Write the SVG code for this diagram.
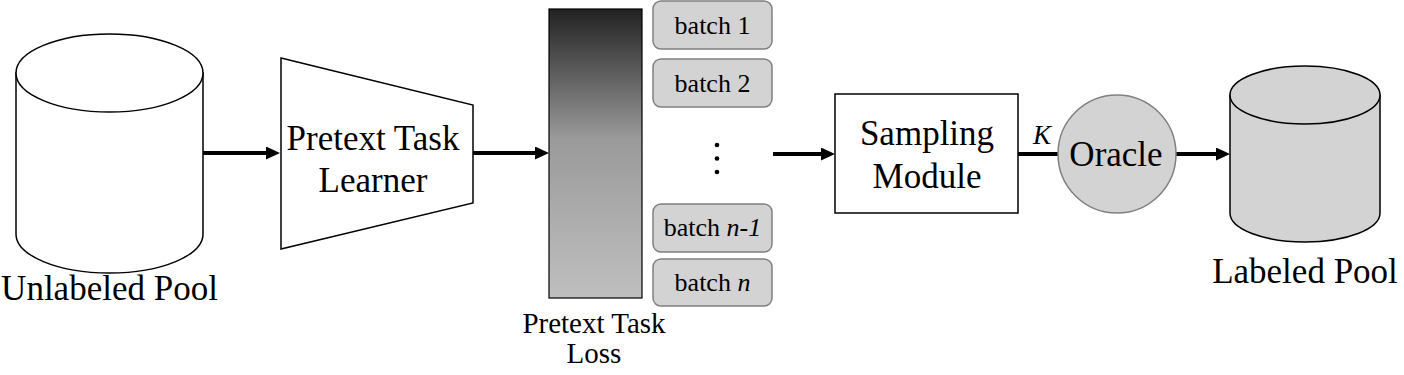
<svg xmlns="http://www.w3.org/2000/svg" width="1404" height="375" viewBox="0 0 1404 375">
<style>
.t{font-family:"Liberation Serif","Times New Roman",serif;fill:#000}
.big{font-size:35px}
.mid{font-size:29px}
.sm{font-size:26px}
.shape{stroke:#000;stroke-width:1.5}
.gray{fill:#d3d3d3;stroke:#808080;stroke-width:1.5}
.conn{stroke:#000;stroke-width:4;fill:none}
</style>
<defs>
<marker id="ah" markerUnits="userSpaceOnUse" markerWidth="14" markerHeight="13" refX="4" refY="6.5" orient="auto">
<path d="M0,0 L14,6.5 L0,13 Z" fill="#000"/>
</marker>
<linearGradient id="lossGrad" x1="0" y1="0" x2="0" y2="1">
<stop offset="0" stop-color="#222"/>
<stop offset="0.45" stop-color="#9a9a9a"/>
<stop offset="1" stop-color="#bfbfbf"/>
</linearGradient>
</defs>

<g id="connectors">
<line class="conn" x1="203" y1="153" x2="270" y2="153" marker-end="url(#ah)"/>
<line class="conn" x1="473" y1="153" x2="539" y2="153" marker-end="url(#ah)"/>
<line class="conn" x1="773" y1="154" x2="825" y2="154" marker-end="url(#ah)"/>
<line class="conn" x1="1018" y1="154" x2="1058" y2="154"/>
<line class="conn" x1="1176" y1="154" x2="1220" y2="154" marker-end="url(#ah)"/>
<text class="t" x="1033" y="144" font-size="27" font-style="italic">K</text>
</g>

<g id="unlabeled-pool">
<path class="shape" fill="#fff" d="M16,73 L16,234 A93.5,39 0 0 0 203,234 L203,73 Z"/>
<ellipse class="shape" fill="#fff" cx="109.5" cy="73" rx="93.5" ry="39"/>
<text class="t big" x="109.5" y="300" text-anchor="middle">Unlabeled Pool</text>
</g>

<g id="pretext-task-learner">
<polygon class="shape" fill="#fff" points="281,58 473,105 473,203 281,249"/>
<text class="t big" x="373" y="150" text-anchor="middle">Pretext Task</text>
<text class="t big" x="373" y="192" text-anchor="middle">Learner</text>
</g>

<g id="pretext-task-loss">
<rect x="549" y="9" width="93" height="289" fill="url(#lossGrad)" stroke="#000" stroke-width="1.2"/>
<text class="t mid" x="594" y="333" text-anchor="middle">Pretext Task</text>
<text class="t mid" x="594" y="363" text-anchor="middle">Loss</text>
</g>

<g id="batch-1">
<rect class="gray" x="653" y="1" width="119" height="48" rx="8"/>
<text class="t sm" x="712.5" y="34" text-anchor="middle">batch 1</text>
</g>
<g id="batch-2">
<rect class="gray" x="653" y="59" width="119" height="48" rx="8"/>
<text class="t sm" x="712.5" y="92" text-anchor="middle">batch 2</text>
</g>
<g id="batch-dots">
<circle cx="717" cy="145" r="2.3" fill="#000"/>
<circle cx="717" cy="158.5" r="2.3" fill="#000"/>
<circle cx="717" cy="172" r="2.3" fill="#000"/>
</g>
<g id="batch-n-1">
<rect class="gray" x="653" y="204" width="119" height="48" rx="8"/>
<text class="t sm" x="712.5" y="236" text-anchor="middle">batch <tspan font-style="italic">n-1</tspan></text>
</g>
<g id="batch-n">
<rect class="gray" x="653" y="259" width="119" height="47" rx="8"/>
<text class="t sm" x="712.5" y="291" text-anchor="middle">batch <tspan font-style="italic">n</tspan></text>
</g>

<g id="sampling-module">
<rect class="shape" fill="#fff" x="835" y="94" width="183" height="119"/>
<text class="t big" x="927" y="145" text-anchor="middle">Sampling</text>
<text class="t big" x="927" y="188" text-anchor="middle">Module</text>
</g>

<g id="oracle">
<circle class="gray" cx="1117" cy="154" r="59"/>
<text class="t big" x="1116" y="166" text-anchor="middle">Oracle</text>
</g>

<g id="labeled-pool">
<path class="shape" fill="#d3d3d3" d="M1230,95 L1230,213 A75,29 0 0 0 1380,213 L1380,95 Z"/>
<ellipse class="shape" fill="#d3d3d3" cx="1305" cy="95" rx="75" ry="29"/>
<text class="t big" x="1305" y="283" text-anchor="middle">Labeled Pool</text>
</g>
</svg>
